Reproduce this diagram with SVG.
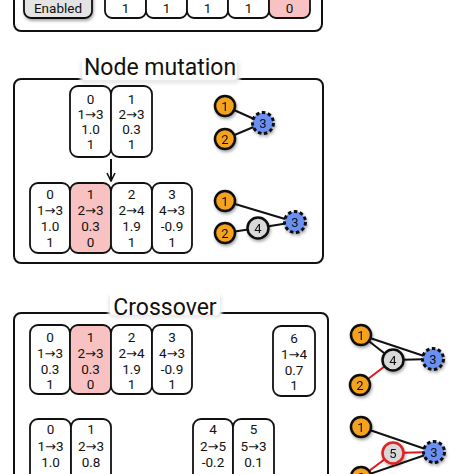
<svg xmlns="http://www.w3.org/2000/svg" width="474" height="474" viewBox="0 0 474 474">
<defs>
<filter id="sh" x="-50%" y="-50%" width="200%" height="200%"><feDropShadow dx="1" dy="2" stdDeviation="1.5" flood-color="#000" flood-opacity="0.35"/></filter>
<filter id="tsh" x="-20%" y="-50%" width="140%" height="200%"><feGaussianBlur stdDeviation="1.5"/></filter>
<marker id="ah" viewBox="0 0 10 10" refX="9" refY="5" markerWidth="10" markerHeight="10" orient="auto" markerUnits="userSpaceOnUse"><path d="M1,1 L9,5 L1,9" fill="none" stroke="#111" stroke-width="1.6"/></marker>
<style>
.panel{fill:#fff;stroke:#111;stroke-width:2}
.cell{fill:#fff;stroke:#111;stroke-width:1.8}
.hl{fill:#f8c2c2}
.lbl{fill:#e4e4e4}
.t{font-family:Roboto,"Liberation Sans",sans-serif;font-size:13.5px;fill:#111;text-anchor:middle}
.ar{font-family:"DejaVu Sans",sans-serif;font-size:13px}
.title{font-family:Roboto,"Liberation Sans",sans-serif;font-size:23px;fill:#111;text-anchor:middle}
.tbg{fill:#ebebeb}
.nd{stroke:#111;stroke-width:2.5}
.in{fill:#f5a21f}
.out{fill:#6b90f2;stroke-dasharray:3.5 2.5;stroke-width:3}
.hid{fill:#d9d9d9}
.redn{stroke:#e02020}
.nt{font-family:Roboto,"Liberation Sans",sans-serif;font-size:13px;fill:#111;text-anchor:middle}
.e{stroke:#111;stroke-width:2;fill:none}
.er{stroke:#e01818;stroke-width:2;fill:none}
</style>
</defs>
<rect width="474" height="474" fill="#fff"/>

<!-- Top panel -->
<g id="panel-enabled">
<rect class="panel" x="14" y="-60" width="308" height="91" rx="7"/>
<rect class="cell lbl" x="24" y="-40" width="68" height="58" rx="7" filter="url(#sh)"/>
<text class="t" x="58" y="12.5">Enabled</text>
<rect class="cell" x="105" y="-40" width="41" height="58" rx="7"/><text class="t" x="125.5" y="12.5">1</text>
<rect class="cell" x="146" y="-40" width="41" height="58" rx="7"/><text class="t" x="166.5" y="12.5">1</text>
<rect class="cell" x="187" y="-40" width="41" height="58" rx="7"/><text class="t" x="207.5" y="12.5">1</text>
<rect class="cell" x="228" y="-40" width="41" height="58" rx="7"/><text class="t" x="248.5" y="12.5">1</text>
<rect class="cell hl" x="269" y="-40" width="41" height="58" rx="7"/><text class="t" x="289.5" y="12.5">0</text>
</g>

<!-- Node mutation panel -->
<g id="panel-node-mutation">
<rect class="panel" x="14" y="79" width="309" height="184" rx="7"/>
<rect class="tbg" x="80" y="60" width="160" height="24" rx="5" filter="url(#tsh)"/>
<rect fill="#fff" x="82" y="56" width="155" height="24" rx="4"/>
<text class="title" x="160" y="75">Node mutation</text>
</g>

<g id="nm-genes-before">
<rect class="cell" x="70" y="86" width="41" height="71" rx="8"/>
<text class="t" x="90.5" y="104">0</text><text class="t" x="90.5" y="119">1<tspan class="ar">→</tspan>3</text><text class="t" x="90.5" y="134">1.0</text><text class="t" x="90.5" y="149">1</text>
<rect class="cell" x="111" y="86" width="41" height="71" rx="8"/>
<text class="t" x="131.5" y="104">1</text><text class="t" x="131.5" y="119">2<tspan class="ar">→</tspan>3</text><text class="t" x="131.5" y="134">0.3</text><text class="t" x="131.5" y="149">1</text>
</g>

<g id="nm-genes-after">
<rect class="cell" x="30" y="183" width="40" height="70" rx="8"/>
<text class="t" x="50" y="198.5">0</text><text class="t" x="50" y="214.5">1<tspan class="ar">→</tspan>3</text><text class="t" x="50" y="231">1.0</text><text class="t" x="50" y="247">1</text>
<rect class="cell hl" x="70" y="183" width="41" height="70" rx="8"/>
<text class="t" x="90.5" y="198.5">1</text><text class="t" x="90.5" y="214.5">2<tspan class="ar">→</tspan>3</text><text class="t" x="90.5" y="231">0.3</text><text class="t" x="90.5" y="247">0</text>
<rect class="cell" x="111" y="183" width="41" height="70" rx="8"/>
<text class="t" x="131.5" y="198.5">2</text><text class="t" x="131.5" y="214.5">2<tspan class="ar">→</tspan>4</text><text class="t" x="131.5" y="231">1.9</text><text class="t" x="131.5" y="247">1</text>
<rect class="cell" x="152" y="183" width="40" height="70" rx="8"/>
<text class="t" x="172" y="198.5">3</text><text class="t" x="172" y="214.5">4<tspan class="ar">→</tspan>3</text><text class="t" x="172" y="231">-0.9</text><text class="t" x="172" y="247">1</text>
</g>

<!-- Crossover panel -->
<g id="panel-crossover">
<rect class="panel" x="14" y="313" width="314" height="200" rx="7"/>
<rect class="tbg" x="108" y="294" width="114" height="24" rx="5" filter="url(#tsh)"/>
<rect fill="#fff" x="110" y="290" width="110" height="25" rx="4"/>
<text class="title" x="165" y="315">Crossover</text>
</g>

<g id="co-parent-genes">
<rect class="cell" x="30" y="325" width="40" height="69" rx="8"/>
<text class="t" x="50" y="342">0</text><text class="t" x="50" y="357.5">1<tspan class="ar">→</tspan>3</text><text class="t" x="50" y="374">0.3</text><text class="t" x="50" y="389">1</text>
<rect class="cell hl" x="70" y="325" width="41" height="69" rx="8"/>
<text class="t" x="90.5" y="342">1</text><text class="t" x="90.5" y="357.5">2<tspan class="ar">→</tspan>3</text><text class="t" x="90.5" y="374">0.3</text><text class="t" x="90.5" y="389">0</text>
<rect class="cell" x="111" y="325" width="41" height="69" rx="8"/>
<text class="t" x="131.5" y="342">2</text><text class="t" x="131.5" y="357.5">2<tspan class="ar">→</tspan>4</text><text class="t" x="131.5" y="374">1.9</text><text class="t" x="131.5" y="389">1</text>
<rect class="cell" x="152" y="325" width="40" height="69" rx="8"/>
<text class="t" x="172" y="342">3</text><text class="t" x="172" y="357.5">4<tspan class="ar">→</tspan>3</text><text class="t" x="172" y="374">-0.9</text><text class="t" x="172" y="389">1</text>
<rect class="cell" x="273" y="326" width="42" height="70" rx="8"/>
<text class="t" x="294" y="342.5">6</text><text class="t" x="294" y="358.5">1<tspan class="ar">→</tspan>4</text><text class="t" x="294" y="375">0.7</text><text class="t" x="294" y="390">1</text>
</g>

<g id="co-parent2-genes">
<rect class="cell" x="30" y="419" width="41" height="70" rx="8"/>
<text class="t" x="50.5" y="434">0</text><text class="t" x="50.5" y="450.5">1<tspan class="ar">→</tspan>3</text><text class="t" x="50.5" y="467">1.0</text><text class="t" x="50.5" y="483">1</text>
<rect class="cell" x="71" y="419" width="40" height="70" rx="8"/>
<text class="t" x="91" y="434">1</text><text class="t" x="91" y="450.5">2<tspan class="ar">→</tspan>3</text><text class="t" x="91" y="467">0.8</text><text class="t" x="91" y="483">1</text>
<rect class="cell" x="193" y="419" width="40" height="70" rx="8"/>
<text class="t" x="213" y="434">4</text><text class="t" x="213" y="450.5">2<tspan class="ar">→</tspan>5</text><text class="t" x="213" y="467">-0.2</text><text class="t" x="213" y="483">1</text>
<rect class="cell" x="233" y="419" width="41" height="70" rx="8"/>
<text class="t" x="253.5" y="434">5</text><text class="t" x="253.5" y="450.5">5<tspan class="ar">→</tspan>3</text><text class="t" x="253.5" y="467">0.1</text><text class="t" x="253.5" y="483">1</text>
</g>

<!-- Connectors -->
<g id="connectors">
<line class="e" x1="111" y1="159" x2="111" y2="181" marker-end="url(#ah)"/>
<line class="e" x1="225" y1="106" x2="263" y2="123"/>
<line class="e" x1="225" y1="139" x2="263" y2="123"/>
<line class="e" x1="225" y1="201" x2="295" y2="222"/>
<line class="e" x1="225" y1="233" x2="258" y2="228"/>
<line class="e" x1="258" y1="228" x2="295" y2="222"/>
<line class="e" x1="361" y1="335" x2="433" y2="359"/>
<line class="e" x1="361" y1="335" x2="393" y2="360"/>
<line class="e" x1="393" y1="360" x2="433" y2="359"/>
<line class="er" x1="360" y1="385" x2="393" y2="360"/>
<line class="e" x1="361" y1="427" x2="434" y2="452"/>
<line class="e" x1="361" y1="477" x2="434" y2="452"/>
<line class="er" x1="361" y1="477" x2="393" y2="453"/>
<line class="er" x1="393" y1="453" x2="434" y2="452"/>
</g>

<!-- Node mutation graph before -->
<g id="nm1-n1" filter="url(#sh)"><circle class="nd in" cx="225" cy="106" r="10"/><text class="nt" x="225" y="110.5">1</text></g>
<g id="nm1-n2" filter="url(#sh)"><circle class="nd in" cx="225" cy="139" r="10"/><text class="nt" x="225" y="143.5">2</text></g>
<g id="nm1-n3" filter="url(#sh)"><circle class="nd out" cx="263" cy="123" r="10.5"/><text class="nt" x="263" y="127.5">3</text></g>

<!-- Node mutation graph after -->
<g id="nm2-n1" filter="url(#sh)"><circle class="nd in" cx="225" cy="201" r="10"/><text class="nt" x="225" y="205.5">1</text></g>
<g id="nm2-n2" filter="url(#sh)"><circle class="nd in" cx="225" cy="233" r="10"/><text class="nt" x="225" y="237.5">2</text></g>
<g id="nm2-n4" filter="url(#sh)"><circle class="nd hid" cx="258" cy="228" r="10.5"/><text class="nt" x="258" y="232.5">4</text></g>
<g id="nm2-n3" filter="url(#sh)"><circle class="nd out" cx="295" cy="222" r="10.5"/><text class="nt" x="295" y="226.5">3</text></g>

<!-- Crossover graph 1 -->
<g id="co1-n1" filter="url(#sh)"><circle class="nd in" cx="361" cy="335" r="10"/><text class="nt" x="361" y="339.5">1</text></g>
<g id="co1-n2" filter="url(#sh)"><circle class="nd in" cx="360" cy="385" r="10"/><text class="nt" x="360" y="389.5">2</text></g>
<g id="co1-n4" filter="url(#sh)"><circle class="nd hid" cx="393" cy="360" r="10.5"/><text class="nt" x="393" y="364.5">4</text></g>
<g id="co1-n3" filter="url(#sh)"><circle class="nd out" cx="433" cy="359" r="10.5"/><text class="nt" x="433" y="363.5">3</text></g>

<!-- Crossover graph 2 -->
<g id="co2-n1" filter="url(#sh)"><circle class="nd in" cx="361" cy="427" r="10"/><text class="nt" x="361" y="431.5">1</text></g>
<g id="co2-n2" filter="url(#sh)"><circle class="nd in" cx="361" cy="477" r="10"/><text class="nt" x="361" y="481.5">2</text></g>
<g id="co2-n5" filter="url(#sh)"><circle class="nd hid redn" cx="393" cy="453" r="10.5"/><text class="nt" x="393" y="457.5">5</text></g>
<g id="co2-n3" filter="url(#sh)"><circle class="nd out" cx="434" cy="452" r="10.5"/><text class="nt" x="434" y="456.5">3</text></g>
</svg>
